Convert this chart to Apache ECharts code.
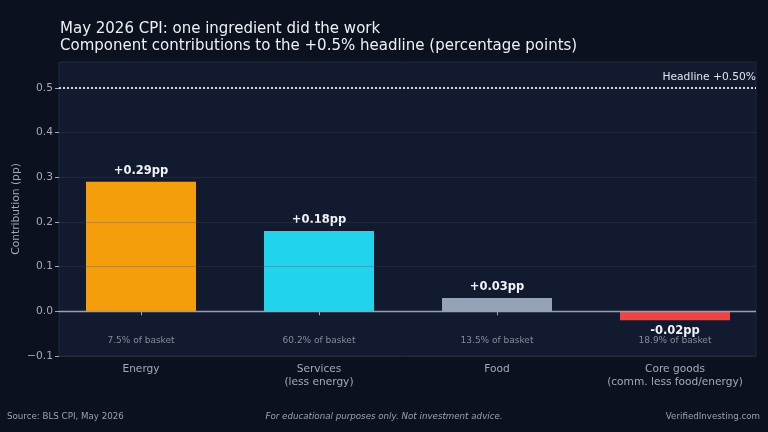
<!DOCTYPE html>
<html>
<head>
<meta charset="utf-8">
<script src="https://cdn.jsdelivr.net/npm/echarts@6/dist/echarts.min.js"></script>
<style>
  html, body { margin: 0; padding: 0; background: #0b111e; }
  #chart { width: 768px; height: 432px; }
</style>
</head>
<body>
<div id="chart"></div>
<script>
const categories = ['Energy', 'Services\n(less energy)', 'Food', 'Core goods\n(comm. less food/energy)']
const contributions = [0.29, 0.18, 0.03, -0.02]
const basketShares = [7.5, 60.2, 13.5, 18.9]
const yTicks = [-0.1, 0, 0.1, 0.2, 0.3, 0.4, 0.5]
const headline = 0.5

const barColors = ['#f59e0b', '#22d3ee', '#94a3b8', '#ef4444']
const font = 'DejaVu Sans'
const muted = '#a3aab8'

const fmtTick = v => (v < 0 ? '\u2212' : '') + Math.abs(v).toFixed(1)
const fmtPP = v => (v >= 0 ? '+' : '') + v.toFixed(2) + 'pp'

const chart = echarts.init(document.getElementById('chart'))
chart.setOption({
  backgroundColor: '#0b111e',
  textStyle: { fontFamily: font },
  animation: false,
  title: [
    {
      text: 'May 2026 CPI: one ingredient did the work\nComponent contributions to the +0.5% headline (percentage points)',
      left: 55, top: 16,
      textStyle: { color: '#eef0f4', fontSize: 15, fontWeight: 'normal', lineHeight: 16.5, fontFamily: font }
    },
    {
      text: 'Source: BLS CPI, May 2026', left: 2, top: 407,
      textStyle: { color: '#9aa2b0', fontSize: 8.7, fontWeight: 'normal', fontFamily: font }
    },
    {
      text: 'For educational purposes only. Not investment advice.', left: 'center', top: 407,
      textStyle: { color: '#9aa2b0', fontSize: 8.7, fontWeight: 'normal', fontStyle: 'italic', fontFamily: font }
    },
    {
      text: 'VerifiedInvesting.com', right: 3, top: 407,
      textStyle: { color: '#9aa2b0', fontSize: 8.7, fontWeight: 'normal', fontFamily: font }
    }
  ],
  grid: [
    { left: 59, right: 12, top: 62, bottom: 76, outerBoundsMode: 'none', containLabel: false, show: true, backgroundColor: '#111a2e', borderColor: '#1f2a40', borderWidth: 1 },
    { left: 52, right: 4, top: 62, bottom: 76, outerBoundsMode: 'none', containLabel: false }
  ],
  xAxis: [
    { type: 'value', gridIndex: 0, min: 0, max: 1, show: false },
    {
      type: 'category', gridIndex: 1, data: categories,
      axisLine: { show: false },
      axisTick: { show: true, alignWithLabel: true, length: 4, lineStyle: { color: muted } },
      axisLabel: { interval: 0, color: muted, fontSize: 10.6, margin: 7, lineHeight: 12.5, fontFamily: font },
      splitLine: { show: false }
    }
  ],
  yAxis: [
    {
      type: 'value', gridIndex: 0, min: -0.1, max: 0.558, interval: 0.1, z: 5,
      name: 'Contribution (pp)', nameLocation: 'middle', nameGap: 37, nameMoveOverlap: false,
      nameTextStyle: { color: muted, fontSize: 10.7, fontFamily: font },
      axisLine: { show: false },
      axisTick: { show: true, length: 4, customValues: yTicks, lineStyle: { color: muted } },
      axisLabel: { color: muted, fontSize: 10.7, margin: 6, customValues: yTicks, formatter: fmtTick, fontFamily: font },
      splitLine: { show: true, lineStyle: { color: 'rgba(70,75,90,0.3)', width: 1 } }
    },
    { type: 'value', gridIndex: 1, min: -0.1, max: 0.558, show: false, splitLine: { show: false } }
  ],
  series: [
    {
      type: 'bar', xAxisIndex: 1, yAxisIndex: 1, barWidth: 110, z: 2,
      data: contributions.map((v, i) => ({
        value: v,
        itemStyle: { color: barColors[i] },
        label: { position: v >= 0 ? 'top' : 'bottom' }
      })),
      label: {
        show: true, distance: 5, color: '#f1f3f6', fontSize: 11.5, fontWeight: 'bold', fontFamily: font,
        formatter: p => fmtPP(p.value)
      }
    },
    {
      type: 'scatter', xAxisIndex: 1, yAxisIndex: 1, symbolSize: 0, z: 6,
      data: basketShares.map((s, i) => [i, -0.065]),
      label: {
        show: true, position: 'inside', color: '#a0a7b5', fontSize: 9, fontFamily: font,
        formatter: p => basketShares[p.dataIndex].toFixed(1) + '% of basket'
      }
    },
    {
      type: 'line', xAxisIndex: 0, yAxisIndex: 0, z: 7,
      data: [[0, 0], [1, 0]], symbol: 'none', lineStyle: { opacity: 0 }, silent: true,
      markLine: {
        silent: true, symbol: 'none',
        data: [
          { yAxis: 0, lineStyle: { color: '#9aa0ab', width: 1.3, type: 'solid' }, label: { show: false } },
          {
            yAxis: headline,
            lineStyle: { color: '#e6e8ec', width: 1.8, type: [2, 2] },
            label: {
              show: true, position: 'insideEndTop', distance: [0, 5], formatter: 'Headline +0.50%',
              color: '#e0e4ea', fontSize: 10.7, fontFamily: font
            }
          }
        ]
      }
    }
  ]
})
</script>
</body>
</html>
